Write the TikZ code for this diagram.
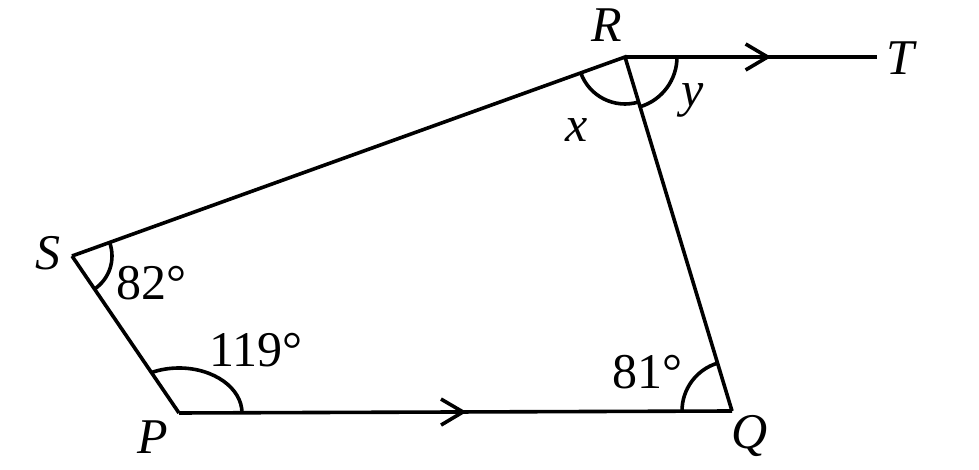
\documentclass[tikz,border=0pt]{standalone}
\usepackage{fontspec}
\setmainfont{Liberation Serif}
\usetikzlibrary{angles,arrows.meta,decorations.markings}

\tikzset{
  side/.style={line width=1.8pt, line join=miter},
  parallel/.style={decoration={markings,
      mark=at position #1 with {\arrow[line width=1.8pt]{Straight Barb[length=11pt,width=13pt]}}},
    postaction={decorate}},
  mark angle/.style={draw, line width=1.8pt, angle radius=#1},
  lbl/.style={inner sep=0pt, font=\fontsize{25}{29}\selectfont},
}

\begin{document}
\begin{tikzpicture}[x=0.5pt, y=0.5pt]
  \useasboundingbox (0,0) rectangle (979,470);

  % vertices
  \coordinate (S) at (72,214);
  \coordinate (P) at (179,57);
  \coordinate (Q) at (732,59);
  \coordinate (R) at (625,413);
  \coordinate (T) at (877,413);

  % sides
  \draw [side] (S) -- (P);
  \draw [side, parallel=0.52] (P) -- (Q);
  \draw [side] (Q) -- (R) -- (S);
  \draw [side, parallel=0.58] (R) -- (T);

  % angles
  \pic [mark angle=20pt] {angle = P--S--R};
  \draw [side] (P) ++(63,0) arc [start angle=0, end angle=116, x radius=63, y radius=45];
  \pic [mark angle=25pt] {angle = R--Q--P};
  \pic [mark angle=23.5pt] {angle = S--R--Q};
  \pic [mark angle=26pt] {angle = Q--R--T};

  % vertex labels
  \node [lbl] (lS) at (48,217) {\textit{S}};
  \node [lbl] (lP) at (153,33) {\textit{P}};
  \node [lbl] (lQ) at (750,34) {\textit{Q}};
  \node [lbl] (lR) at (607,445) {\textit{R}};
  \node [lbl] (lT) at (902,412) {\textit{T}};

  % angle labels
  \node [lbl] (ax) at (577,340) {\textit{x}};
  \node [lbl] (ay) at (693,370) {\textit{y}};
  \node [lbl] (aS) at (151,187) {82°};
  \node [lbl] (aP) at (256,120) {119°};
  \node [lbl] (aQ) at (647,98) {81°};
\end{tikzpicture}
\end{document}
